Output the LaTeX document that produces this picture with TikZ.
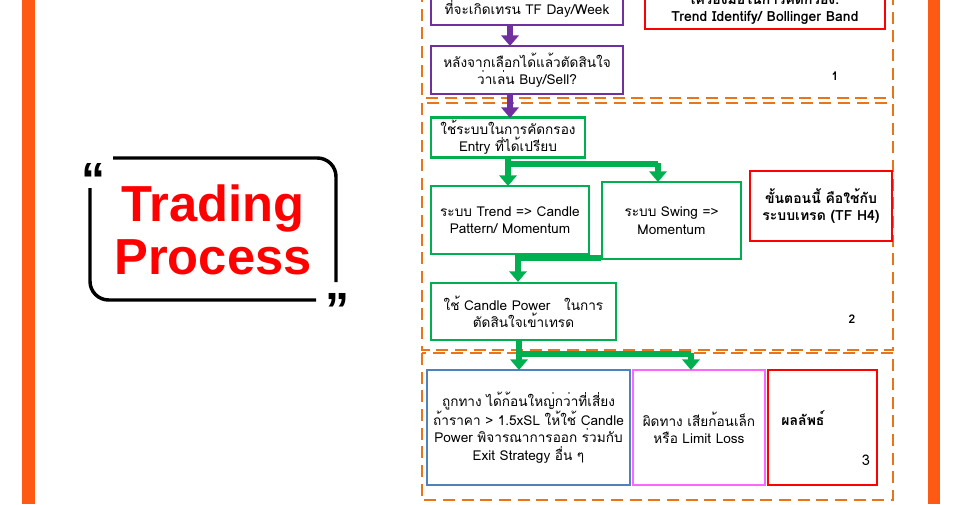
\documentclass[tikz,border=0pt]{standalone}
\usepackage{fontspec}
\setmainfont{Loma.otf}[BoldFont=Loma-Bold.otf]
\newfontfamily\titlefont{Liberation Sans}
\usetikzlibrary{arrows.meta,calc}
\definecolor{obar}{HTML}{FF5A14}
\definecolor{odash}{HTML}{E8751A}
\definecolor{pur}{HTML}{7030A0}
\definecolor{grn}{HTML}{00B050}
\definecolor{blu}{HTML}{4F81BD}
\definecolor{mag}{HTML}{FF66FF}
\definecolor{rd}{HTML}{FF0000}
\tikzset{
 px/.style={x=0.75pt,y=-0.75pt},
 region/.style={draw=odash,line width=2.2pt,dash pattern=on 9pt off 5pt},
 bx/.style={draw=#1,line width=1.6pt,align=center,inner sep=2pt,font=\fontsize{10.2}{13}\selectfont},
 ar/.style={draw=#1,line width=4pt,-{Triangle[width=13pt,length=8pt]}},
 ln/.style={draw=#1,line width=4pt},
 num/.style={font=\bfseries\fontsize{9}{11}\selectfont},
 frame/.style={line width=2.6pt,rounded corners=14pt},
 quote/.style={font=\titlefont\bfseries\fontsize{36}{36}\selectfont},
}
\begin{document}
\begin{tikzpicture}[px]
\useasboundingbox (0,0) rectangle (960,504);
\clip (0,0) rectangle (960,504);
\fill[obar] (22,0) rectangle (35,504);
\fill[obar] (928,0) rectangle (940,504);
% regions
\draw[region] (422,-10) rectangle (893,98);
\draw[region] (422,103) rectangle (893,350);
\draw[region] (422,353) rectangle (893,500);
% region 1
\node[bx=pur,minimum width=192*0.75pt,minimum height=50*0.75pt] (p1) at (527,0) {ระบบที่ใช้ในการหาสินค้า\\ที่จะเกิดเทรน TF Day/Week};
\node[bx=pur,minimum width=192*0.75pt,minimum height=48*0.75pt] (p2) at (527,70) {หลังจากเลือกได้แล้วตัดสินใจ\\ว่าเล่น Buy/Sell?};
\node[bx=rd,font=\bfseries\fontsize{10.5}{12.5}\selectfont,minimum width=240*0.75pt,minimum height=44*0.75pt] (r1) at (765,7) {เครื่องมือในการคัดกรอง:\\Trend Identify/ Bollinger Band};
\node[num] (n1) at (835,76) {1};
% region 2
\node[bx=grn,minimum width=154*0.75pt,minimum height=39*0.75pt] (g1) at (508,137.5) {ใช้ระบบในการคัดกรอง\\Entry ที่ได้เปรียบ};
\node[bx=grn,minimum width=158*0.75pt,minimum height=68*0.75pt] (g2) at (510,220) {ระบบ Trend => Candle\\Pattern/ Momentum};
\node[bx=grn,minimum width=139*0.75pt,minimum height=77*0.75pt] (g3) at (671.5,220.5) {ระบบ Swing =>\\Momentum};
\node[bx=grn,minimum width=185*0.75pt,minimum height=57*0.75pt] (g4) at (523.5,311.5) {ใช้ Candle Power \ \ ในการ\\ตัดสินใจเข้าเทรด};
\node[bx=rd,font=\bfseries\fontsize{10.5}{13}\selectfont,minimum width=142*0.75pt,minimum height=70*0.75pt] (r2) at (821,206) {ขั้นตอนนี้ คือใช้กับ\\ระบบเทรด (TF H4)};
\node[num] (n2) at (852,319) {2};
% region 3
\node[bx=blu,minimum width=203*0.75pt,minimum height=115*0.75pt] (b1) at (528.5,427.5) {ถูกทาง ได้ก้อนใหญ่กว่าที่เสี่ยง\\ถ้าราคา > 1.5xSL ให้ใช้ Candle\\Power พิจารณาการออก ร่วมกับ\\Exit Strategy อื่น ๆ};
\node[bx=mag,minimum width=132*0.75pt,minimum height=115*0.75pt] (m1) at (699,427.5) {ผิดทาง เสียก้อนเล็ก\\หรือ Limit Loss};
\node[bx=rd,minimum width=109*0.75pt,minimum height=115*0.75pt] (r3) at (822.5,427.5) {};
\node[font=\bfseries\fontsize{10.5}{12}\selectfont] (res) at (803,418) {ผลลัพธ์};
\node[font=\fontsize{11}{12}\selectfont] (n3) at (866,460) {3};
% arrows
\draw[ar=pur] (p1.south -| 510,0) -- (510,46);
\draw[ar=pur] (p2.south -| 510,0) -- (510,118);
\draw[ar=grn] (g1.south -| 508,0) -- (508,186);
\draw[ln=grn] (508,164) -- (658,164);
\draw[ar=grn] (658,162.5) -- (658,182);
\coordinate (j2) at (518,258);
\draw[ln=grn] (g3.south west |- j2) -- (j2);
\draw[ar=grn] (518,254) -- (g4.north -| 518,0);
\draw[ar=grn] (519,340) -- (519,370);
\draw[ln=grn] (519,354) -- (691,354);
\draw[ar=grn] (691,352.5) -- (691,370);
% title
\draw[frame] (113,158) -- (336,158) -- (336,282);
\draw[frame] (90,188) -- (90,300) -- (316,300);
\node[quote] (q1) at (93,180) {“};
\node[quote] (q2) at (337,310) {”};
\node[text=rd,font=\titlefont\bfseries\fontsize{38}{40}\selectfont,align=center] (tt) at (213,230) {Trading\\Process};
\end{tikzpicture}
\end{document}
